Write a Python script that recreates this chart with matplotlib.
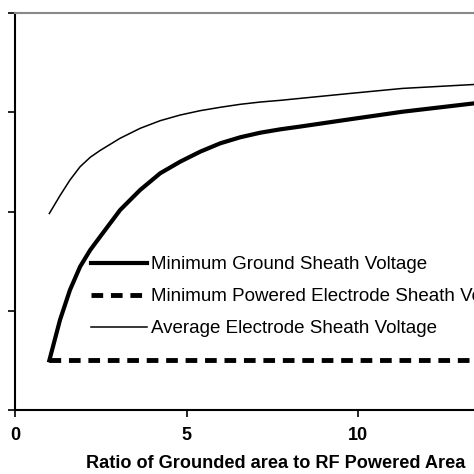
import matplotlib.pyplot as plt

plt.rcParams['font.family'] = ['Liberation Sans', 'DejaVu Sans']

# area ratio (grounded / RF powered)
ratio_ground = [1.0, 1.31, 1.60, 1.895, 2.19, 2.478, 3.061, 3.644, 4.227, 4.81, 5.394,
                5.977, 6.56, 7.143, 7.726, 8.309, 9.77, 11.28, 13.38, 14.5]
v_ground = [0.5, 0.907, 1.209, 1.444, 1.612, 1.746, 2.015, 2.217, 2.385, 2.502, 2.603,
            2.687, 2.748, 2.794, 2.828, 2.856, 2.93, 3.005, 3.09, 3.13]

ratio_powered = [1.0, 14.5]
v_powered = [0.5, 0.5]

ratio_avg = [1.0, 1.31, 1.60, 1.895, 2.19, 2.478, 3.061, 3.644, 4.227, 4.81, 5.394,
             5.977, 6.56, 7.143, 7.726, 9.77, 11.28, 13.38, 14.5]
v_avg = [1.98, 2.16, 2.317, 2.451, 2.546, 2.615, 2.738, 2.838, 2.915, 2.972, 3.016,
         3.05, 3.08, 3.103, 3.12, 3.19, 3.24, 3.28, 3.30]

xticks = [0, 5, 10, 15]
yticks = [0, 1, 2, 3, 4]

fig = plt.figure(figsize=(4.74, 4.74), dpi=100)
ax = fig.add_axes([15/474, 64/474, 522/474, 397/474])

ax.plot(ratio_ground, v_ground, color='black', lw=3, solid_joinstyle='round',
        label='Minimum Ground Sheath Voltage')
ax.plot(ratio_powered, v_powered, color='black', lw=3.5, dashes=(2.4, 1.6),
        label='Minimum Powered Electrode Sheath Voltage')
ax.plot(ratio_avg, v_avg, color='black', lw=1.1, solid_joinstyle='round',
        label='Average Electrode Sheath Voltage')

ax.set_xlim(0, 15.2)
ax.set_ylim(0, 4)
ax.set_xticks(xticks)
ax.set_xticklabels([str(t) for t in xticks], fontsize=13, fontweight='bold')
ax.set_yticks(yticks)
ax.set_yticklabels([])
ax.tick_params(axis='both', direction='out', length=5, width=1.2, color='black')
ax.tick_params(axis='x', pad=7)

ax.spines['left'].set_linewidth(1.5)
ax.spines['bottom'].set_linewidth(1.5)
ax.spines['top'].set_color('#888888')
ax.spines['top'].set_linewidth(1.5)
ax.spines['right'].set_visible(False)

ax.set_xlabel('Ratio of Grounded area to RF Powered Area', fontsize=13.1, fontweight='bold', labelpad=8)

ax.legend(loc='upper left', bbox_to_anchor=(91/474, 1 - 256/474), bbox_transform=fig.transFigure,
          frameon=False, fontsize=13.5, handlelength=3.0, handletextpad=0.2,
          labelspacing=0.8, borderpad=0, borderaxespad=0)

fig.savefig('out.png', dpi=100)
